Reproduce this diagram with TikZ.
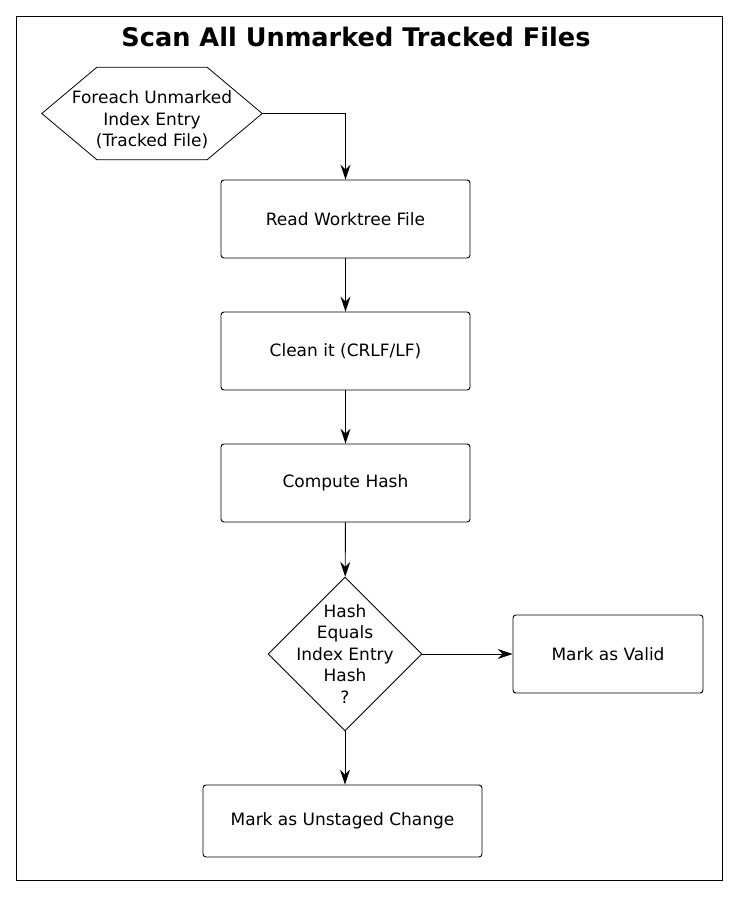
\documentclass[tikz,border=0pt]{standalone}
\usepackage{fontspec}
\setmainfont{DejaVu Sans}
\usetikzlibrary{shapes.geometric,arrows.meta}

\begin{document}
\begin{tikzpicture}[x=1pt,y=-1pt,
	boxtext/.style={font=\fontsize{17pt}{21.5pt}\selectfont, align=center},
	stepbox/.style={boxtext, draw, rounded corners=3pt, line width=0.9pt, minimum width=249pt, minimum height=78pt, inner sep=0pt},
	decision/.style={diamond, draw, line width=0.9pt, aspect=1, minimum width=154pt, minimum height=154pt, inner sep=0pt},
	flow/.style={draw, line width=0.9pt, -{Stealth[length=15pt,width=10pt,inset=5pt]}}]
	\useasboundingbox (0,0) rectangle (739,897);
	\draw [line width=1.0pt] (16,16) rectangle (722,880);
	\node [font=\bfseries\fontsize{25.6pt}{25.6pt}\selectfont] (title) at (356,37) {Scan All Unmarked Tracked Files};
	% loop start
	\node [minimum width=220pt, minimum height=92pt, inner sep=0pt, label={[boxtext, yshift=-6.5pt]center:Foreach Unmarked\\Index Entry\\(Tracked File)}] (foreach) at (152,113.5) {};
	\draw [line width=0.8pt] (foreach.west) -- ([xshift=55pt]foreach.north west) -- ([xshift=-55pt]foreach.north east) -- (foreach.east) -- ([xshift=-55pt]foreach.south east) -- ([xshift=55pt]foreach.south west) -- cycle;
	\node [stepbox] (read) at (345.5,219) {Read Worktree File};
	\node [stepbox] (clean) at (345.5,351) {Clean it (CRLF/LF)};
	\node [stepbox] (hash) at (345.5,483) {Compute Hash};
	\node [decision, label={[boxtext]center:Hash\\Equals\\Index Entry\\Hash\\?}] (equal) at (345,654) {};
	\node [stepbox, minimum width=190pt] (valid) at (608,654) {Mark as Valid};
	\node [stepbox, minimum width=279pt, minimum height=72pt] (unstaged) at (342.5,821) {Mark as Unstaged Change};
	% connectors
	\draw [flow] (foreach.east) -| (read.north);
	\draw [flow] (read) -- (clean);
	\draw [flow] (clean) -- (hash);
	\draw [flow] (hash) -- (equal);
	\draw [flow] (equal.east) -- (valid.west);
	\draw [flow] (equal.south) -- (equal.south |- unstaged.north);
\end{tikzpicture}
\end{document}
